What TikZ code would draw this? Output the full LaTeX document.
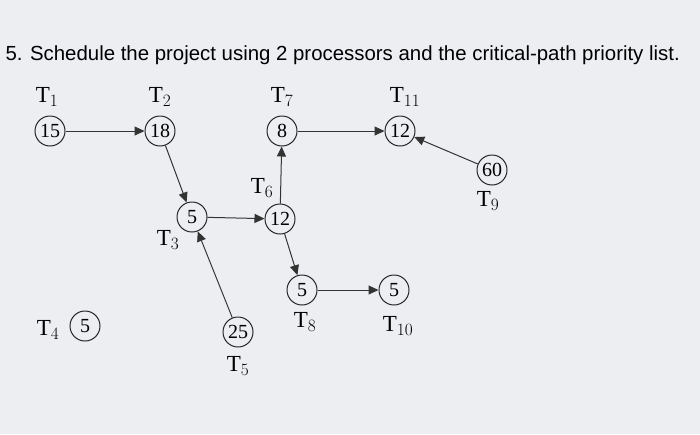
\documentclass[tikz,border=0pt]{standalone}
\usepackage{fontspec}
\setmainfont{Liberation Serif}
\newfontfamily\titlefont{Liberation Sans}
\usetikzlibrary{arrows.meta}
\definecolor{bg}{RGB}{236,238,242}
\begin{document}
\begin{tikzpicture}[x=1pt,y=-1pt,
  task/.style={circle,draw=black!85,line width=1pt,minimum size=30pt,inner sep=0pt,font=\fontsize{20}{20}\selectfont},
  lab/.style={font=\fontsize{23}{23}\selectfont},
  edge/.style={draw=black!80,line width=1pt,-{Triangle[length=10pt,width=9pt]}}]
\fill[bg] (0,0) rectangle (700,434);
\useasboundingbox (0,0) rectangle (700,434);
\node[anchor=west,font=\titlefont\fontsize{20.4}{20.4}\selectfont] (title) at (2,55) {5. Schedule the project using 2 processors and the critical-path priority list.};
\node[task] (t1) at (50,131) {15};
\node[task] (t2) at (160,131) {18};
\node[task] (t7) at (282,131) {8};
\node[task] (t11) at (400,131) {12};
\node[task] (t9) at (492,170) {60};
\node[task] (t3) at (192,217) {5};
\node[task] (t6) at (280,219) {12};
\node[task] (t8) at (302,290) {5};
\node[task] (t10) at (394,290) {5};
\node[task] (t4) at (85,326) {5};
\node[task] (t5) at (238,332) {25};
\node[lab] (l1) at (47,97) {T$_1$};
\node[lab] (l2) at (160,97) {T$_2$};
\node[lab] (l7) at (282,97) {T$_7$};
\node[lab] (l11) at (405,97) {T$_{11}$};
\node[lab] (l9) at (488,201) {T$_9$};
\node[lab] (l3) at (168,240) {T$_3$};
\node[lab] (l6) at (262,188) {T$_6$};
\node[lab] (l8) at (305,322) {T$_8$};
\node[lab] (l10) at (398,326) {T$_{10}$};
\node[lab] (l4) at (48,330) {T$_4$};
\node[lab] (l5) at (238,366) {T$_5$};
\draw[edge] (t1) -- (t2);
\draw[edge] (t7) -- (t11);
\draw[edge] (t9) -- (t11);
\draw[edge] (t2) -- (t3);
\draw[edge] (t5) -- (t3);
\draw[edge] (t3) -- (t6);
\draw[edge] (t6) -- (t7);
\draw[edge] (t6) -- (t8);
\draw[edge] (t8) -- (t10);
\end{tikzpicture}
\end{document}
